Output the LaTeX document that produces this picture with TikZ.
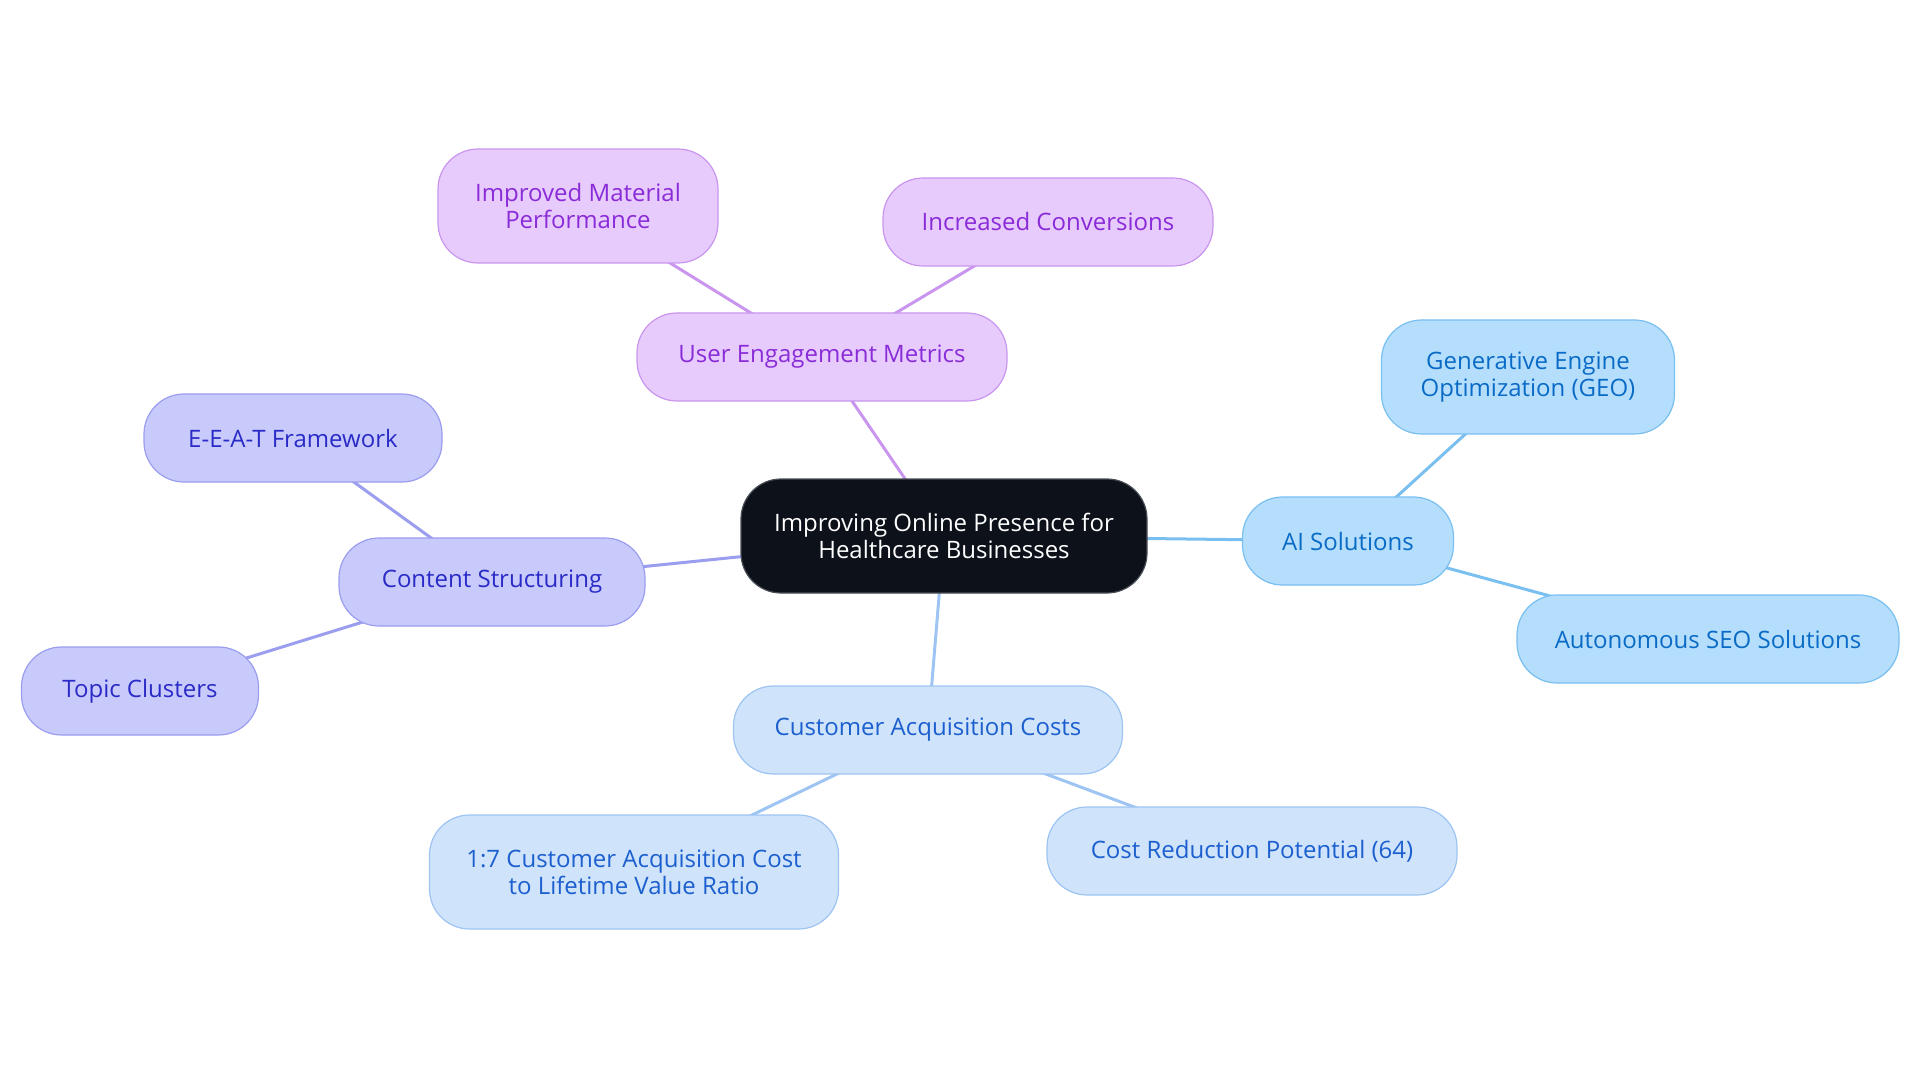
\documentclass[tikz,border=0pt]{standalone}
\usepackage{fontspec}
\setmainfont{Open Sans}
\usetikzlibrary{positioning}

\definecolor{rootfill}{HTML}{0C111A}
\definecolor{rootline}{HTML}{4A4E55}
\definecolor{pufill}{HTML}{E7CBFC}
\definecolor{puline}{HTML}{C995EE}
\definecolor{putext}{HTML}{8A2BD8}
\definecolor{aifill}{HTML}{B4DEFC}
\definecolor{ailine}{HTML}{79BFF0}
\definecolor{aitext}{HTML}{0A6BC6}
\definecolor{csfill}{HTML}{C8CAFC}
\definecolor{csline}{HTML}{9B9DEF}
\definecolor{cstext}{HTML}{2A2BC6}
\definecolor{cafill}{HTML}{CFE3FB}
\definecolor{caline}{HTML}{9DC4F2}
\definecolor{catext}{HTML}{1C5FCE}

\pgfdeclarelayer{background}
\pgfsetlayers{background,main}

\begin{document}
\begin{tikzpicture}[x=1pt,y=-1pt,
  box/.style={rounded corners=40pt,line width=1.2pt,align=center,inner sep=0pt,
    font=\fontsize{24}{27}\selectfont,minimum height=88pt},
  tall/.style={minimum height=114pt},
  rootbox/.style={box,fill=rootfill,draw=rootline,text=white},
  pubox/.style={box,fill=pufill,draw=puline,text=putext},
  aibox/.style={box,fill=aifill,draw=ailine,text=aitext},
  csbox/.style={box,fill=csfill,draw=csline,text=cstext},
  cabox/.style={box,fill=cafill,draw=caline,text=catext},
  link/.style={line width=3pt}]
\useasboundingbox (0,0) rectangle (1920,1083);

% centre
\node[rootbox,minimum width=406pt,tall] (root) at (944,536) {Improving Online Presence for\\Healthcare Businesses};

% user engagement
\node[pubox,minimum width=370pt] (uem) at (822,357) {User Engagement Metrics};
\node[pubox,minimum width=280pt,tall] (imp) at (578,206) {Improved Material\\Performance};
\node[pubox,minimum width=330pt] (conv) at (1048,222) {Increased Conversions};

% ai
\node[aibox,minimum width=211pt] (ai) at (1348,541) {AI Solutions};
\node[aibox,minimum width=293pt,tall] (geo) at (1528,377) {Generative Engine\\Optimization (GEO)};
\node[aibox,minimum width=382pt] (seo) at (1708,639) {Autonomous SEO Solutions};

% content
\node[csbox,minimum width=306pt] (cs) at (492,582) {Content Structuring};
\node[csbox,minimum width=298pt] (eeat) at (293,438) {E-E-A-T Framework};
\node[csbox,minimum width=237pt] (topic) at (140,691) {Topic Clusters};

% acquisition
\node[cabox,minimum width=389pt] (cac) at (928,730) {Customer Acquisition Costs};
\node[cabox,minimum width=409pt,tall] (ratio) at (634,872) {1:7 Customer Acquisition Cost\\to Lifetime Value Ratio};
\node[cabox,minimum width=410pt] (cut) at (1252,851) {Cost Reduction Potential (64)};

\begin{pgfonlayer}{background}
\draw[link,puline] (root.center) -- (uem.center);
\draw[link,puline] (uem.center) -- (imp.center);
\draw[link,puline] (uem.center) -- (conv.center);
\draw[link,ailine] (root.center) -- (ai.center);
\draw[link,ailine] (ai.center) -- (geo.center);
\draw[link,ailine] (ai.center) -- (seo.center);
\draw[link,csline] (root.center) -- (cs.center);
\draw[link,csline] (cs.center) -- (eeat.center);
\draw[link,csline] (cs.center) -- (topic.center);
\draw[link,caline] (root.center) -- (cac.center);
\draw[link,caline] (cac.center) -- (ratio.center);
\draw[link,caline] (cac.center) -- (cut.center);
\end{pgfonlayer}
\end{tikzpicture}
\end{document}
